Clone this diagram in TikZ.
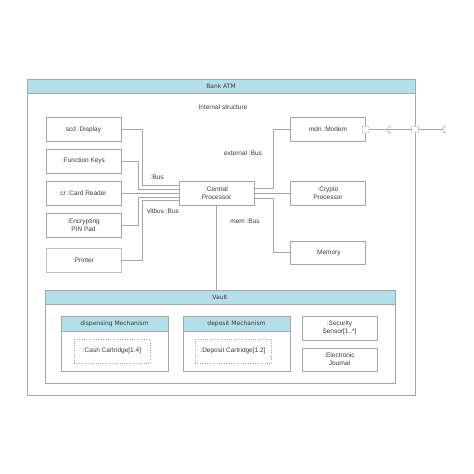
\documentclass[tikz,border=0pt]{standalone}
\usepackage{fontspec}
\setmainfont{Liberation Sans}
\newfontfamily\hdrfont{DejaVu Sans}
\usetikzlibrary{calc}

\definecolor{linegray}{HTML}{A6A6A6}
\definecolor{hdrblue}{HTML}{B4DEE8}
\definecolor{txtgray}{HTML}{3A3A3A}

\tikzset{
    part/.style={draw=linegray, fill=white, minimum width=75pt, minimum height=24pt,
        inner sep=1pt, align=center, text=txtgray, font=\fontsize{6.5}{8}\selectfont},
    cartridge/.style={part, dotted, minimum width=76pt},
    bus/.style={draw=linegray, line width=0.6pt},
    hdr/.style={draw=linegray, fill=hdrblue, text=txtgray, font=\hdrfont\fontsize{6}{7}\selectfont},
    box/.style={draw=linegray, fill=white},
    lbl/.style={text=txtgray, font=\fontsize{6.5}{8}\selectfont},
    port/.style={draw=linegray, fill=white, rectangle, minimum width=6.5pt, minimum height=6.5pt, inner sep=0pt, rounded corners=0.4pt}
}

\begin{document}
\begin{tikzpicture}[x=1pt, y=-1pt]
    \fill[white] (0,0) rectangle (474,474);

    % Bank ATM frame
    \draw[box, line width=0.6pt] (27,79) rectangle (415,395);
    \node[hdr, minimum width=388pt, minimum height=14pt, inner sep=0pt] (atm) at (221,86) {Bank ATM};
    \node[lbl] (internal) at (223,107) {Internal structure};

    % left parts
    \node[part] (disp) at (83.5,129.5) {scd :Display};
    \node[part] (fkeys) at (83.5,161) {:Function Keys};
    \node[part] (card) at (83.5,193) {cr :Card Reader};
    \node[part] (pin) at (83.5,225) {:Encrypting\\PIN Pad};
    \node[part, draw=linegray!70] (printer) at (83.5,260) {:Printer};

    % central processor
    \node[part] (cp) at (216.5,193.5) {:Central\\Processor};

    % right parts
    \node[part] (modem) at (328,129.5) {mdn :Modem};
    \node[part] (crypto) at (328,193) {:Crypto\\Processor};
    \node[part, minimum height=23pt] (mem) at (328,252.5) {:Memory};

    % buses on the left
    \draw[bus] (disp.east) -| (142,185.5) -- (cp.west |- 0,185.5);
    \draw[bus] (fkeys.east) -| (138,189) -- (cp.west |- 0,189);
    \draw[bus] (card.east) -- (cp.west |- card.east);
    \draw[bus] (pin.east) -| (138,197) -- (cp.west |- 0,197);
    \draw[bus] (printer.east) -| (142,200.5) -- (cp.west |- 0,200.5);
    \node[lbl] (buslbl) at (157,177) {:Bus};
    \node[lbl] (vltlbl) at (163,211) {vltbus :Bus};

    % buses on the right
    \draw[bus] (cp.east |- 0,188.5) -| (273,129.5) -- (modem.west);
    \draw[bus] (cp.east |- crypto.west) -- (crypto.west);
    \draw[bus] (cp.east |- 0,198) -| (273,252.5) -- (mem.west);
    \node[lbl] (extlbl) at (243,153) {external :Bus};
    \node[lbl] (memlbl) at (245,221) {mem :Bus};

    % Vault
    \node[box, minimum width=350pt, minimum height=93pt] (vault) at (220,336.5) {};
    \node[hdr, minimum width=350pt, minimum height=14pt, inner sep=0pt] (vaulthdr) at (220,297) {Vault};
    \draw[bus] (cp.south) -- (vaulthdr.north -| cp.south);

    % dispensing mechanism
    \node[box, minimum width=107pt, minimum height=55pt] (disbox) at (114.5,343.5) {};
    \node[hdr, minimum width=107pt, minimum height=15pt, inner sep=0pt] (dishdr) at (114.5,323.5) {dispensing Mechanism};
    \node[cartridge] (cash) at (112,351) {:Cash Cartridge[1.4]};

    % deposit mechanism
    \node[box, minimum width=107pt, minimum height=55pt] (depbox) at (236.5,343.5) {};
    \node[hdr, minimum width=107pt, minimum height=15pt, inner sep=0pt] (dephdr) at (236.5,323.5) {deposit Mechanism};
    \node[cartridge] (depcart) at (233,351) {:Deposit Cartridge[1.2]};

    % sensor and journal
    \node[part] (sensor) at (339.5,328) {:Security\\Sensor[1..*]};
    \node[part, minimum height=23pt] (journal) at (339.5,359.5) {:Electronic\\Journal};

    % modem ports and sockets
    \node[port] (mport) at (modem.east) {};
    \node[port] (fport) at (415,129.5) {};
    \coordinate (sockA) at (388,129.5);
    \coordinate (sockB) at (443,129.5);
    \draw[bus] (mport) -- (fport) -- (sockB);
    \draw[bus] ($(sockA)+(3,-3.5)$) arc[start angle=270, end angle=90, radius=3.5];
    \draw[bus] ($(sockB)+(3,-3.5)$) arc[start angle=270, end angle=90, radius=3.5];
    \node[port] at (mport) {};
    \node[port] at (fport) {};
\end{tikzpicture}
\end{document}
